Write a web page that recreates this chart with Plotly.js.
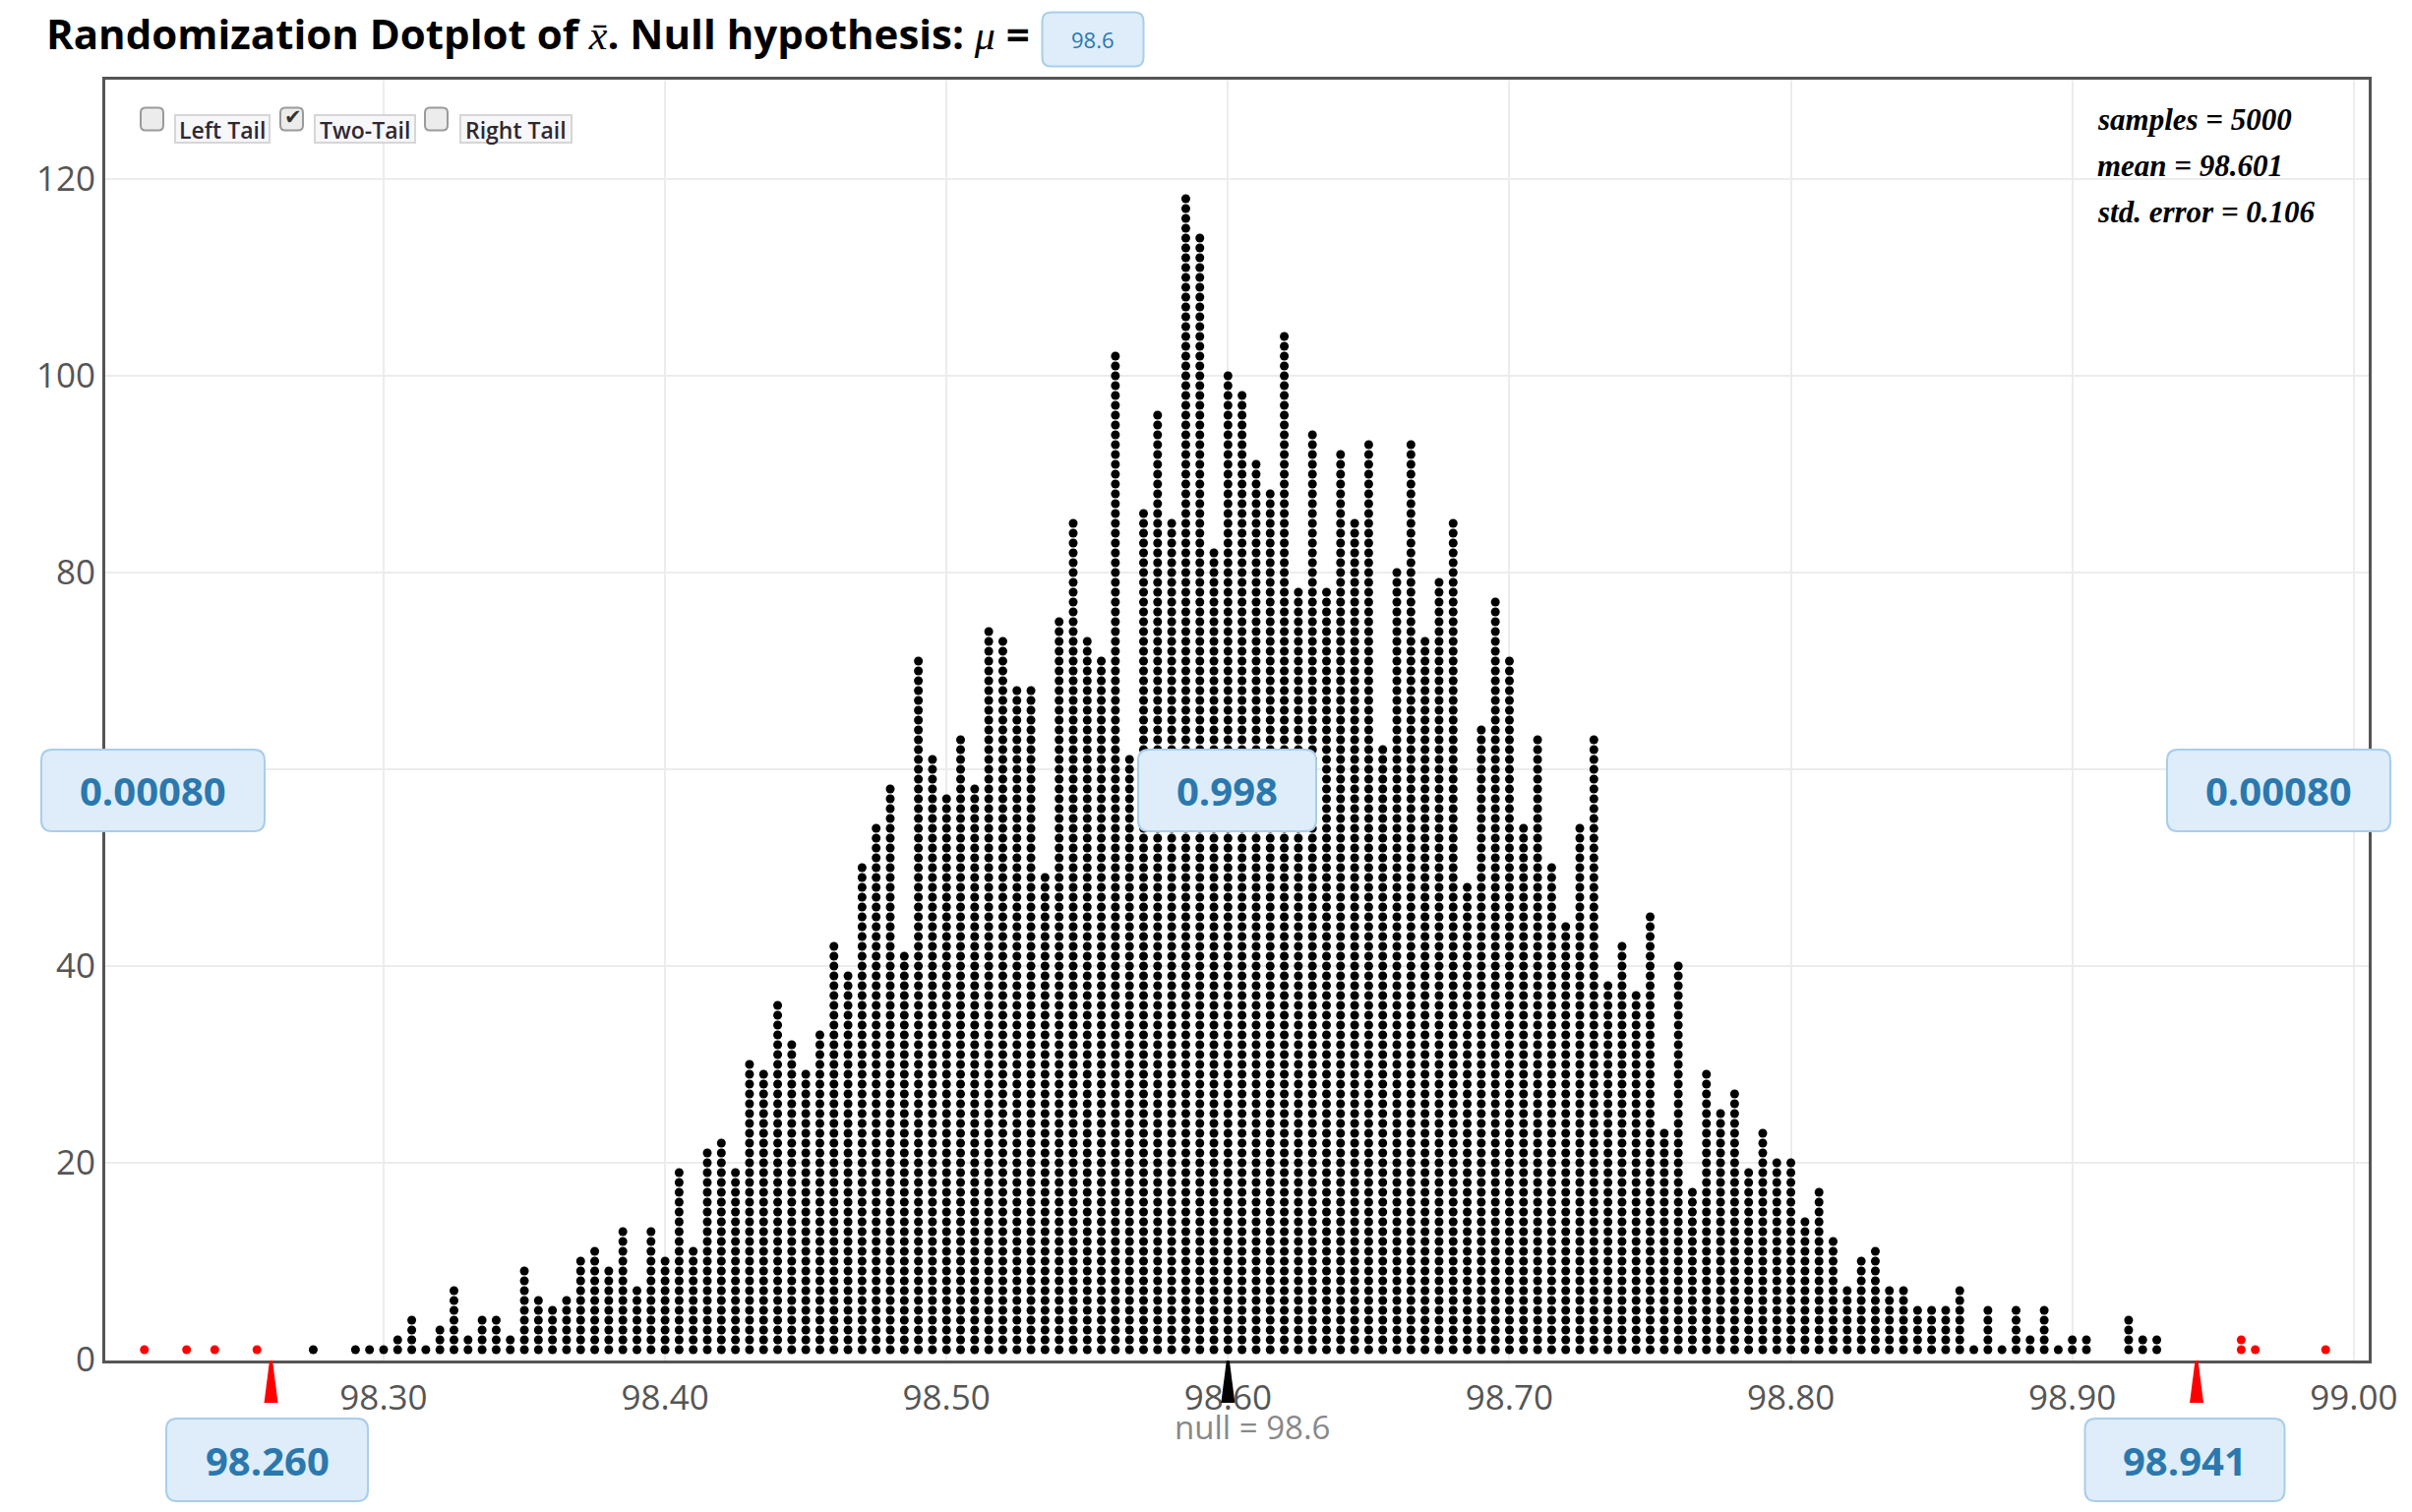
<!DOCTYPE html>
<html>
<head>
<meta charset="utf-8">
<script src="https://cdn.plot.ly/plotly-3.0.1.min.js"></script>
<style>
html, body { margin: 0; padding: 0; background: #ffffff; }
#chart { width: 2452px; height: 1537px; }
</style>
</head>
<body>
<div id="chart"></div>
<script>
// ---- data (column value -> number of stacked dots) ----
const columnMeans = [
  98.215, 98.23, 98.24, 98.255, 98.275, 98.29, 98.295, 98.30, 98.305, 98.31, 98.315, 98.32, 98.325, 98.33, 98.335, 98.34, 98.345,
  98.35, 98.355, 98.36, 98.365, 98.37, 98.375, 98.38, 98.385, 98.39, 98.395, 98.40,
  98.405, 98.41, 98.415, 98.42, 98.425, 98.43, 98.435, 98.44, 98.445, 98.45, 98.455, 98.46, 98.465, 98.47, 98.475, 98.48, 98.485, 98.49, 98.495, 98.50,
  98.505, 98.51, 98.515, 98.52, 98.525, 98.53, 98.535, 98.54, 98.545, 98.55, 98.555, 98.56, 98.565, 98.57, 98.575, 98.58, 98.585, 98.59, 98.595, 98.60,
  98.605, 98.61, 98.615, 98.62, 98.625, 98.63, 98.635, 98.64, 98.645, 98.65, 98.655, 98.66, 98.665, 98.67, 98.675, 98.68, 98.685, 98.69, 98.695, 98.70,
  98.705, 98.71, 98.715, 98.72, 98.725, 98.73, 98.735, 98.74, 98.745, 98.75, 98.755, 98.76, 98.765, 98.77, 98.775, 98.78, 98.785, 98.79, 98.795, 98.80,
  98.805, 98.81, 98.815, 98.82, 98.825, 98.83, 98.835, 98.84, 98.845, 98.85, 98.855, 98.86, 98.865, 98.87, 98.875, 98.88, 98.885, 98.89, 98.895, 98.90,
  98.905, 98.92, 98.925, 98.93, 98.96, 98.965, 98.99
];
const columnCounts = [
  1, 1, 1, 1, 1, 1, 1, 1, 2, 4, 1, 3, 7, 2, 4, 4, 2,
  9, 6, 5, 6, 10, 11, 9, 13, 7, 13, 10,
  19, 11, 21, 22, 19, 30, 29, 36, 32, 29, 33, 42, 39, 50, 54, 58, 41, 71, 61, 57,
  63, 58, 74, 73, 68, 68, 49, 75, 85, 73, 71, 102, 61, 86, 96, 85, 118, 114, 82, 100,
  98, 91, 88, 104, 78, 94, 78, 92, 85, 93, 62, 80, 93, 73, 79, 85, 48, 64, 77, 71,
  54, 63, 50, 44, 54, 63, 38, 42, 37, 45, 23, 40, 17, 29, 25, 27, 19, 23, 20, 20,
  14, 17, 12, 7, 10, 11, 7, 7, 5, 5, 5, 7, 1, 5, 1, 5, 2, 5, 1, 2,
  2, 4, 2, 2, 2, 1, 1
];
const xTickValues = [98.30, 98.40, 98.50, 98.60, 98.70, 98.80, 98.90, 99.00];
const xTickLabels = ['98.30', '98.40', '98.50', '98.60', '98.70', '98.80', '98.90', '99.00'];
const yTickValues = [0, 20, 40, 60, 80, 100, 120];
const nullValue = 98.6;
const nullLabel = 'null = 98.6';
const leftCutoff = 98.260;
const rightCutoff = 98.941;
const leftCutoffLabel = '98.260';
const rightCutoffLabel = '98.941';
const leftTailProportion = '0.00080';
const middleProportion = '0.998';
const rightTailProportion = '0.00080';
const statLines = ['samples = 5000', 'mean = 98.601', 'std. error = 0.106'];
const tailOptions = ['Left Tail', 'Two-Tail', 'Right Tail'];
const tailChecked = [false, true, false];
const nullInputText = '98.6';

// ---- expand columns into individual stacked dots ----
const blackX = [], blackY = [], redX = [], redY = [];
columnMeans.forEach((m, i) => {
  const inTail = (m <= leftCutoff) || (m >= rightCutoff);
  for (let k = 1; k <= columnCounts[i]; k++) {
    if (inTail) { redX.push(m); redY.push(k); } else { blackX.push(m); blackY.push(k); }
  }
});

// ---- geometry helpers (pixel layout of the page) ----
const W = 2452, H = 1537;
const M = { l: 107, r: 44, t: 81, b: 154 };
const PW = W - M.l - M.r, PH = H - M.t - M.b;
const px2paperX = p => (p - M.l) / PW;
const px2paperY = p => (H - M.b - p) / PH;

function roundRect(w, h, r) {
  const a = w / 2, b = h / 2;
  return `M ${-a + r} ${b} L ${a - r} ${b} Q ${a} ${b} ${a} ${b - r} L ${a} ${-b + r} Q ${a} ${-b} ${a - r} ${-b} ` +
         `L ${-a + r} ${-b} Q ${-a} ${-b} ${-a} ${-b + r} L ${-a} ${b - r} Q ${-a} ${b} ${-a + r} ${b} Z`;
}

const boxFill = '#deedf9', boxLine = '#a9cdeb', blueText = '#2a78ae';
const shapes = [];
const annotations = [];

function paperBox(cx, cy, w, h, r) {
  shapes.push({
    type: 'path', xref: 'paper', yref: 'paper',
    xsizemode: 'pixel', ysizemode: 'pixel',
    xanchor: px2paperX(cx), yanchor: px2paperY(cy),
    path: roundRect(w, h, r),
    fillcolor: boxFill, line: { color: boxLine, width: 2 }, layer: 'above'
  });
}
function dataBox(xval, dx, cy, w, h, r) {
  shapes.push({
    type: 'path', xref: 'x', yref: 'paper',
    xsizemode: 'pixel', ysizemode: 'pixel',
    xanchor: xval, yanchor: px2paperY(cy),
    path: roundRect(w, h, r).replace(/(-?\d+(\.\d+)?) (-?\d+(\.\d+)?)/g, (s, a, _a, b) => (Number(a) + dx) + ' ' + b),
    fillcolor: boxFill, line: { color: boxLine, width: 2 }, layer: 'above'
  });
}
function marker(xval, dx, color) {
  shapes.push({
    type: 'path', xref: 'x', yref: 'paper',
    xsizemode: 'pixel', ysizemode: 'pixel',
    xanchor: xval, yanchor: 0,
    path: `M ${dx - 1.5} 0 L ${dx + 1.5} 0 L ${dx + 7} -43 L ${dx - 7} -43 Z`,
    fillcolor: color, line: { width: 0 }, layer: 'above'
  });
}

// cutoff / null markers under the axis
marker(leftCutoff, 0, '#ff0000');
marker(rightCutoff, 9, '#ff0000');
marker(nullValue, 0, '#000000');

// proportion boxes
const pFont = { family: 'Open Sans, Noto Sans, sans-serif', size: 40, color: blueText, weight: 'bold' };
paperBox(155.5, 803.5, 227, 83, 11);
annotations.push({ xref: 'paper', yref: 'paper', x: px2paperX(155.5), y: px2paperY(803.5), text: leftTailProportion, showarrow: false, font: pFont, xanchor: 'center', yanchor: 'middle' });
paperBox(1247.5, 803.5, 181, 83, 11);
annotations.push({ xref: 'paper', yref: 'paper', x: px2paperX(1247.5), y: px2paperY(803.5), text: middleProportion, showarrow: false, font: pFont, xanchor: 'center', yanchor: 'middle' });
paperBox(2316.5, 803.5, 227, 83, 11);
annotations.push({ xref: 'paper', yref: 'paper', x: px2paperX(2316.5), y: px2paperY(803.5), text: rightTailProportion, showarrow: false, font: pFont, xanchor: 'center', yanchor: 'middle' });

// cutoff boxes
dataBox(leftCutoff, -4, 1484, 205, 84, 11);
annotations.push({ xref: 'x', yref: 'paper', x: leftCutoff, xshift: -4, y: px2paperY(1484), text: leftCutoffLabel, showarrow: false, font: pFont, xanchor: 'center', yanchor: 'middle' });
dataBox(rightCutoff, -3, 1484, 203, 84, 11);
annotations.push({ xref: 'x', yref: 'paper', x: rightCutoff, xshift: -3, y: px2paperY(1484), text: rightCutoffLabel, showarrow: false, font: pFont, xanchor: 'center', yanchor: 'middle' });

// null label
annotations.push({ xref: 'paper', yref: 'paper', x: px2paperX(1273), y: px2paperY(1450), text: nullLabel, showarrow: false,
  font: { family: 'Open Sans, sans-serif', size: 33, color: '#888888' }, xanchor: 'center', yanchor: 'middle' });

// null value input box beside the title
paperBox(1111, 40, 103, 55, 9);
annotations.push({ xref: 'paper', yref: 'paper', x: px2paperX(1111), y: px2paperY(40), text: nullInputText, showarrow: false,
  font: { family: 'Open Sans, sans-serif', size: 22, color: blueText }, xanchor: 'center', yanchor: 'middle' });

// statistics text
statLines.forEach((s, i) => {
  annotations.push({ xref: 'paper', yref: 'paper', x: px2paperX(2130), y: px2paperY(122 + i * 46.5), text: '<b><i>' + s + '</i></b>',
    showarrow: false, font: { family: 'Liberation Serif, Times New Roman, serif', size: 31, color: '#000000' }, xanchor: 'left', yanchor: 'middle' });
});

// tail checkboxes
const cbCenters = [154.5, 296.5, 443.5];
const lblBoxes = [[178, 274], [320, 422], [468, 581]];
tailOptions.forEach((t, i) => {
  shapes.push({
    type: 'path', xref: 'paper', yref: 'paper', xsizemode: 'pixel', ysizemode: 'pixel',
    xanchor: px2paperX(cbCenters[i]), yanchor: px2paperY(121), path: roundRect(23, 23, 5),
    fillcolor: '#ececec', line: { color: '#9a9a9a', width: 2 }, layer: 'above'
  });
  shapes.push({
    type: 'rect', xref: 'paper', yref: 'paper',
    x0: px2paperX(lblBoxes[i][0]), x1: px2paperX(lblBoxes[i][1]), y0: px2paperY(145), y1: px2paperY(117),
    fillcolor: '#f7f7fa', line: { color: '#d6d6d6', width: 2 }, layer: 'above'
  });
  annotations.push({ xref: 'paper', yref: 'paper', x: px2paperX((lblBoxes[i][0] + lblBoxes[i][1]) / 2), y: px2paperY(131.5), text: t,
    showarrow: false, font: { family: 'Open Sans, sans-serif', size: 23, color: '#302830', weight: 600 }, xanchor: 'center', yanchor: 'middle' });
  if (tailChecked[i]) {
    annotations.push({ xref: 'paper', yref: 'paper', x: px2paperX(cbCenters[i] + 1), y: px2paperY(119), text: '\u2714',
      showarrow: false, font: { family: 'DejaVu Sans, sans-serif', size: 21, color: '#333333' }, xanchor: 'center', yanchor: 'middle' });
  }
});

const traces = [
  { type: 'scatter', mode: 'markers', x: blackX, y: blackY, marker: { color: '#000000', size: 9, line: { width: 0 } }, hoverinfo: 'skip', showlegend: false },
  { type: 'scatter', mode: 'markers', x: redX, y: redY, marker: { color: '#ff0000', size: 9, line: { width: 0 } }, hoverinfo: 'skip', showlegend: false }
];

const titleText = 'Randomization Dotplot of <span style="font-family:\'Liberation Serif\',serif;font-style:italic;font-weight:normal">x\u0304</span>. ' +
  'Null hypothesis: <span style="font-family:\'Liberation Serif\',serif;font-style:italic;font-weight:normal">\u03bc</span> =';

const layout = {
  width: W, height: H,
  margin: { l: M.l, r: M.r, t: M.t, b: M.b, pad: 0 },
  paper_bgcolor: '#ffffff', plot_bgcolor: '#ffffff',
  showlegend: false, hovermode: false,
  title: {
    text: titleText, xref: 'container', yref: 'container', x: 47 / W, xanchor: 'left', y: 1 - 35 / H, yanchor: 'middle',
    font: { family: 'Liberation Sans Narrow, Arial Narrow, Open Sans, sans-serif', size: 42, color: '#000000', weight: 'bold' }
  },
  xaxis: {
    range: [98.2011, 99.0053], tickmode: 'array', tickvals: xTickValues, ticktext: xTickLabels,
    showgrid: true, gridcolor: '#ececec', gridwidth: 2, zeroline: false,
    showline: true, linecolor: '#555555', linewidth: 3, mirror: true, ticks: '', ticklabelstandoff: 5,
    tickfont: { family: 'Open Sans, sans-serif', size: 35, color: '#555555' }
  },
  yaxis: {
    range: [-0.1, 130.1], tickmode: 'array', tickvals: yTickValues,
    showgrid: true, gridcolor: '#ececec', gridwidth: 2, zeroline: false,
    showline: true, linecolor: '#555555', linewidth: 3, mirror: true, ticks: '',
    tickfont: { family: 'Open Sans, sans-serif', size: 35, color: '#555555' }
  },
  shapes: shapes,
  annotations: annotations
};

Plotly.newPlot('chart', traces, layout, { displayModeBar: false, staticPlot: true });
</script>
</body>
</html>
